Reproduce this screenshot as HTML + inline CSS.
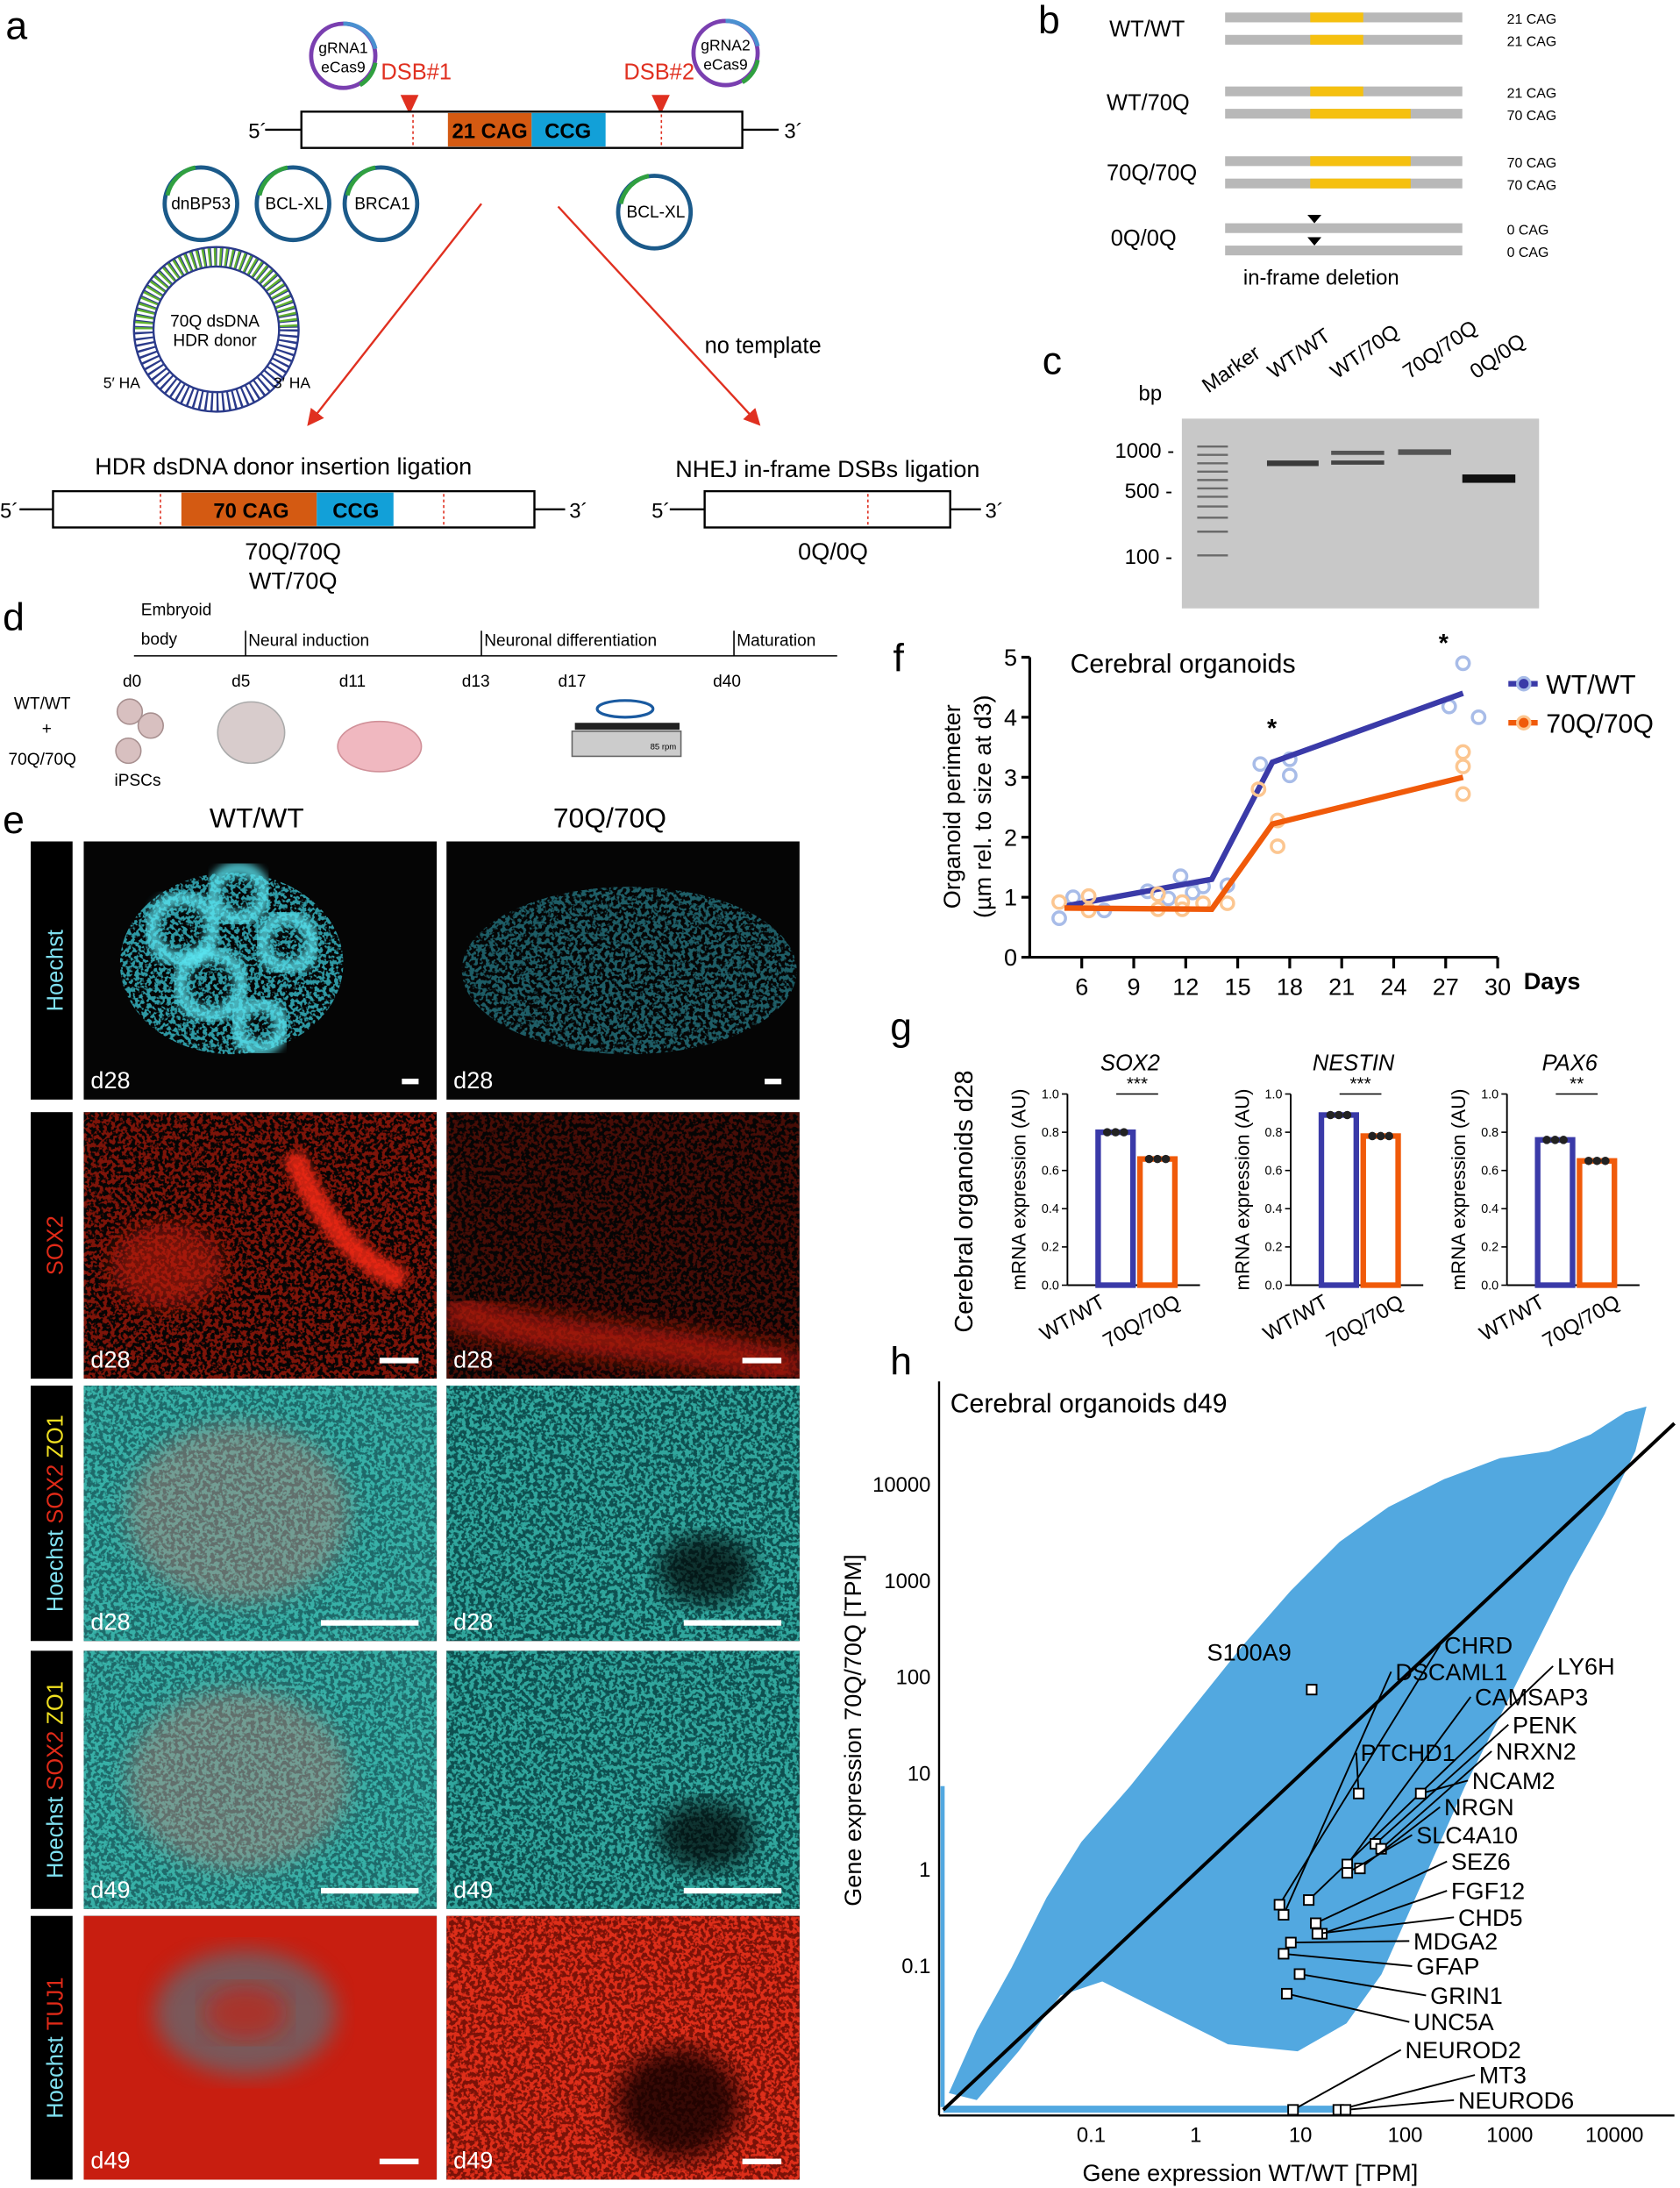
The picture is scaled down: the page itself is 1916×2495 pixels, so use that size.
<!DOCTYPE html>
<html><head><meta charset="utf-8">
<style>
html,body{margin:0;padding:0;background:#fff;}
svg{display:block;font-family:"Liberation Sans",sans-serif;}
</style></head>
<body>
<svg id="root" width="1916" height="2495" viewBox="0 0 1204 1568" preserveAspectRatio="none">
<defs>
<filter id="speck" x="0" y="0" width="1" height="1">
 <feTurbulence type="fractalNoise" baseFrequency="0.35" numOctaves="2" seed="3" result="n"/>
 <feColorMatrix in="n" type="matrix" values="0 0 0 0 0  0 0 0 0 0  0 0 0 0 0  0 0 0 9 -4" result="a"/>
 <feComposite in="SourceGraphic" in2="a" operator="in"/>
</filter>
<filter id="blur3"><feGaussianBlur stdDeviation="3"/></filter>
<filter id="blur8"><feGaussianBlur stdDeviation="8"/></filter>
<marker id="arr" markerWidth="8" markerHeight="8" refX="6" refY="4" orient="auto"><path d="M0,0 L8,4 L0,8 z" fill="#e03020"/></marker>
</defs>

<!-- ===== Panel a ===== -->
<g font-size="15">
 <text x="4" y="28" font-size="28">a</text>
 <g>
  <circle cx="246" cy="40" r="23" fill="none" stroke="#7a3fb0" stroke-width="3"/>
  <path d="M246,17 A23,23 0 0 1 269,35" stroke="#4a90d0" stroke-width="3" fill="none"/>
  <path d="M269,45 A23,23 0 0 1 258,61" stroke="#30a040" stroke-width="3" fill="none"/>
  <text x="246" y="38" font-size="11" text-anchor="middle">gRNA1</text><text x="246" y="52" font-size="11" text-anchor="middle">eCas9</text>
 </g>
 <g>
  <circle cx="520" cy="38" r="23" fill="none" stroke="#7a3fb0" stroke-width="3"/>
  <path d="M520,15 A23,23 0 0 1 543,33" stroke="#4a90d0" stroke-width="3" fill="none"/>
  <path d="M543,43 A23,23 0 0 1 532,59" stroke="#30a040" stroke-width="3" fill="none"/>
  <text x="520" y="36" font-size="11" text-anchor="middle">gRNA2</text><text x="520" y="50" font-size="11" text-anchor="middle">eCas9</text>
 </g>
 <text x="273" y="57" fill="#e03020" font-size="16">DSB#1</text>
 <text x="447" y="57" fill="#e03020" font-size="16">DSB#2</text>
 <path d="M287,68 L300,68 L293.5,82z" fill="#e03020"/><path d="M467,68 L480,68 L473.5,82z" fill="#e03020"/>
 <g>
  <line x1="190" y1="93" x2="216" y2="93" stroke="#000" stroke-width="1.5"/><line x1="532" y1="93" x2="558" y2="93" stroke="#000" stroke-width="1.5"/>
  <rect x="216" y="80" width="316" height="26" fill="#fff" stroke="#000" stroke-width="1.5"/>
  <rect x="321" y="81" width="60" height="24" fill="#d45a12"/><rect x="381" y="81" width="53" height="24" fill="#12a0d8"/>
  <text x="351" y="99" font-weight="bold" font-size="15" text-anchor="middle">21 CAG</text><text x="407" y="99" font-weight="bold" font-size="15" text-anchor="middle">CCG</text>
  <line x1="296" y1="82" x2="296" y2="105" stroke="#e03020" stroke-dasharray="2,2"/><line x1="474" y1="82" x2="474" y2="105" stroke="#e03020" stroke-dasharray="2,2"/>
  <text x="178" y="99">5´</text><text x="562" y="99">3´</text>
 </g>
 <g font-size="12" text-anchor="middle">
  <circle cx="144" cy="146" r="26" fill="none" stroke="#1b5a8a" stroke-width="3"/><text x="144" y="150">dnBP53</text>
  <circle cx="210" cy="146" r="26" fill="none" stroke="#1b5a8a" stroke-width="3"/><text x="211" y="150">BCL-XL</text>
  <circle cx="273" cy="146" r="26" fill="none" stroke="#1b5a8a" stroke-width="3"/><text x="274" y="150">BRCA1</text>
  <circle cx="469" cy="152" r="26" fill="none" stroke="#1b5a8a" stroke-width="3"/><text x="470" y="156">BCL-XL</text>
  <path d="M120,140 A26,26 0 0 1 140,120" stroke="#30a040" stroke-width="3" fill="none"/>
  <path d="M186,140 A26,26 0 0 1 206,120" stroke="#30a040" stroke-width="3" fill="none"/>
  <path d="M249,140 A26,26 0 0 1 269,120" stroke="#30a040" stroke-width="3" fill="none"/>
  <path d="M445,146 A26,26 0 0 1 465,126" stroke="#30a040" stroke-width="3" fill="none"/>
 </g>
 <g>
  <circle cx="155" cy="236" r="52" fill="none" stroke="#2a3a8a" stroke-width="14" stroke-dasharray="1.5,2.5"/>
  <path d="M103,236 A52,52 0 0 1 207,236" fill="none" stroke="#60b030" stroke-width="14" stroke-dasharray="1.5,2.5"/>
  <circle cx="155" cy="236" r="59" fill="none" stroke="#2a3a8a" stroke-width="1.5"/><circle cx="155" cy="236" r="45" fill="none" stroke="#2a3a8a" stroke-width="1.5"/>
  <text x="154" y="234" font-size="12" text-anchor="middle">70Q dsDNA</text><text x="154" y="248" font-size="12" text-anchor="middle">HDR donor</text>
  <text x="74" y="278" font-size="11">5′ HA</text><text x="196" y="278" font-size="11">3′ HA</text>
 </g>
 <line x1="345" y1="146" x2="222" y2="303" stroke="#e03020" stroke-width="1.5" marker-end="url(#arr)"/>
 <line x1="400" y1="148" x2="543" y2="303" stroke="#e03020" stroke-width="1.5" marker-end="url(#arr)"/>
 <text x="505" y="253" font-size="16">no template</text>
 <text x="68" y="340" font-size="17">HDR dsDNA donor insertion ligation</text>
 <text x="484" y="342" font-size="17">NHEJ in-frame DSBs ligation</text>
 <g>
  <line x1="14" y1="365" x2="38" y2="365" stroke="#000" stroke-width="1.5"/><line x1="383" y1="365" x2="405" y2="365" stroke="#000" stroke-width="1.5"/>
  <rect x="38" y="352" width="345" height="26" fill="#fff" stroke="#000" stroke-width="1.5"/>
  <rect x="130" y="353" width="97" height="24" fill="#d45a12"/><rect x="227" y="353" width="55" height="24" fill="#12a0d8"/>
  <text x="180" y="371" font-weight="bold" font-size="15" text-anchor="middle">70 CAG</text><text x="255" y="371" font-weight="bold" font-size="15" text-anchor="middle">CCG</text>
  <line x1="115" y1="354" x2="115" y2="377" stroke="#e03020" stroke-dasharray="2,2"/><line x1="318" y1="354" x2="318" y2="377" stroke="#e03020" stroke-dasharray="2,2"/>
  <text x="0" y="371">5´</text><text x="408" y="371">3´</text>
  <text x="210" y="401" font-size="17" text-anchor="middle">70Q/70Q</text><text x="210" y="422" font-size="17" text-anchor="middle">WT/70Q</text>
 </g>
 <g>
  <line x1="480" y1="365" x2="505" y2="365" stroke="#000" stroke-width="1.5"/><line x1="681" y1="365" x2="703" y2="365" stroke="#000" stroke-width="1.5"/>
  <rect x="505" y="352" width="176" height="26" fill="#fff" stroke="#000" stroke-width="1.5"/>
  <line x1="622" y1="354" x2="622" y2="377" stroke="#e03020" stroke-dasharray="2,2"/>
  <text x="467" y="371">5´</text><text x="706" y="371">3´</text>
  <text x="597" y="401" font-size="17" text-anchor="middle">0Q/0Q</text>
 </g>
</g>

<!-- ===== Panel b ===== -->
<g font-size="16">
 <text x="744" y="24" font-size="28">b</text>
 <g font-size="10">
  <text x="795" y="26" font-size="16">WT/WT</text>
  <rect x="878" y="9" width="170" height="7" fill="#b8b8b8"/><rect x="939" y="9" width="38" height="7" fill="#f5c010"/>
  <rect x="878" y="25" width="170" height="7" fill="#b8b8b8"/><rect x="939" y="25" width="38" height="7" fill="#f5c010"/>
  <text x="1080" y="17">21 CAG</text><text x="1080" y="33">21 CAG</text>
  <text x="793" y="79" font-size="16">WT/70Q</text>
  <rect x="878" y="62" width="170" height="7" fill="#b8b8b8"/><rect x="939" y="62" width="38" height="7" fill="#f5c010"/>
  <rect x="878" y="78" width="170" height="7" fill="#b8b8b8"/><rect x="939" y="78" width="72" height="7" fill="#f5c010"/>
  <text x="1080" y="70">21 CAG</text><text x="1080" y="86">70 CAG</text>
  <text x="793" y="129" font-size="16">70Q/70Q</text>
  <rect x="878" y="112" width="170" height="7" fill="#b8b8b8"/><rect x="939" y="112" width="72" height="7" fill="#f5c010"/>
  <rect x="878" y="128" width="170" height="7" fill="#b8b8b8"/><rect x="939" y="128" width="72" height="7" fill="#f5c010"/>
  <text x="1080" y="120">70 CAG</text><text x="1080" y="136">70 CAG</text>
  <text x="796" y="176" font-size="16">0Q/0Q</text>
  <rect x="878" y="160" width="170" height="7" fill="#b8b8b8"/><rect x="878" y="176" width="170" height="7" fill="#b8b8b8"/>
  <path d="M937,154 L947,154 L942,160z" fill="#000"/><path d="M937,170 L947,170 L942,176z" fill="#000"/>
  <text x="1080" y="168">0 CAG</text><text x="1080" y="184">0 CAG</text>
  <text x="891" y="204" font-size="15">in-frame deletion</text>
 </g>
</g>

<!-- ===== Panel c ===== -->
<g>
 <text x="747" y="268" font-size="28">c</text>
 <g font-size="15">
  <text transform="translate(866,282) rotate(-35)">Marker</text>
  <text transform="translate(913,272) rotate(-35)">WT/WT</text>
  <text transform="translate(958,272) rotate(-35)">WT/70Q</text>
  <text transform="translate(1010,272) rotate(-35)">70Q/70Q</text>
  <text transform="translate(1058,272) rotate(-35)">0Q/0Q</text>
  <text x="816" y="287">bp</text>
  <text x="799" y="328">1000 -</text><text x="806" y="357">500 -</text><text x="806" y="404">100 -</text>
 </g>
 <rect x="847" y="300" width="256" height="136" fill="#c8c8c8"/>
 <g stroke="#6a6a6a" stroke-width="1.5">
  <line x1="858" y1="320" x2="880" y2="320"/><line x1="858" y1="326" x2="880" y2="326"/><line x1="858" y1="332" x2="880" y2="332"/><line x1="858" y1="338" x2="880" y2="338"/><line x1="858" y1="344" x2="880" y2="344"/><line x1="858" y1="350" x2="880" y2="350"/><line x1="858" y1="356" x2="880" y2="356"/><line x1="858" y1="363" x2="880" y2="363"/><line x1="858" y1="371" x2="880" y2="371"/><line x1="858" y1="381" x2="880" y2="381"/><line x1="858" y1="398" x2="880" y2="398"/>
 </g>
 <g>
  <rect x="908" y="330" width="37" height="4" fill="#3a3a3a"/>
  <rect x="954" y="323" width="38" height="3" fill="#555"/><rect x="954" y="330" width="38" height="3" fill="#444"/>
  <rect x="1002" y="322" width="38" height="4" fill="#555"/>
  <rect x="1048" y="340" width="38" height="6" fill="#111"/>
 </g>
</g>

<!-- ===== Panel d ===== -->
<g font-size="12">
 <text x="2" y="452" font-size="28">d</text>
 <line x1="96" y1="470" x2="600" y2="470" stroke="#000"/>
 <text x="101" y="441">Embryoid</text><text x="101" y="462">body</text>
 <text x="178" y="463">Neural induction</text><text x="347" y="463">Neuronal differentiation</text><text x="528" y="463">Maturation</text>
 <line x1="176" y1="452" x2="176" y2="470" stroke="#000"/><line x1="345" y1="452" x2="345" y2="470" stroke="#000"/><line x1="526" y1="452" x2="526" y2="470" stroke="#000"/>
 <text x="88" y="492">d0</text><text x="166" y="492">d5</text><text x="243" y="492">d11</text><text x="331" y="492">d13</text><text x="400" y="492">d17</text><text x="511" y="492">d40</text>
 <text x="10" y="508">WT/WT</text><text x="30" y="526">+</text><text x="6" y="548">70Q/70Q</text><text x="82" y="563">iPSCs</text>
 <g fill="#d8c0c0" stroke="#a89090">
  <circle cx="93" cy="510" r="9"/><circle cx="108" cy="520" r="9"/><circle cx="92" cy="538" r="9"/>
 </g>
 <ellipse cx="180" cy="525" rx="24" ry="22" fill="#d8cccc" stroke="#aaa"/>
 <ellipse cx="272" cy="535" rx="30" ry="18" fill="#f0b8c0" stroke="#d09098"/>
 <g>
  <ellipse cx="448" cy="508" rx="20" ry="6" fill="none" stroke="#1a5aa0" stroke-width="2"/>
  <rect x="412" y="518" width="75" height="5" fill="#222"/><rect x="410" y="524" width="78" height="18" fill="#ccc" stroke="#666"/>
  <text x="466" y="537" font-size="6">85 rpm</text>
 </g>
</g>

<!-- ===== Panel e ===== -->
<g>
 <text x="2" y="597" font-size="28">e</text>
 <text x="184" y="593" font-size="20" text-anchor="middle">WT/WT</text>
 <text x="437" y="593" font-size="20" text-anchor="middle">70Q/70Q</text>
 <g id="micro"></g>
</g>

<!-- ===== Panel f ===== -->
<g>
 <text x="640" y="481" font-size="28">f</text>
 <g id="chartF"></g>
</g>

<!-- ===== Panel g ===== -->
<g>
 <text x="638" y="745" font-size="28">g</text>
 <text transform="translate(697,955) rotate(-90)" font-size="18">Cerebral organoids d28</text>
 <g id="chartG"></g>
</g>

<!-- ===== Panel h ===== -->
<g>
 <text x="638" y="985" font-size="28">h</text>
 <g id="chartH"></g>
</g>
</svg>

<script>
const NS='http://www.w3.org/2000/svg';
function mk(parent,tag,attrs,txt){const e=document.createElementNS(NS,tag);for(const k in attrs)e.setAttribute(k,attrs[k]);if(txt!==undefined)e.textContent=txt;parent.appendChild(e);return e;}

/* ---------- Panel e microscopy ---------- */
const microRowsY=[603,797,993,1183,1373];
const microRowsH=[185,191,183,185,189];
const microLabels=['Hoechst','SOX2','Hoechst SOX2 ZO1','Hoechst SOX2 ZO1','Hoechst TUJ1'];
const microDays=['d28','d28','d28','d49','d49'];
const micro=document.getElementById('micro');
microRowsY.forEach((y,i)=>{
  const h=microRowsH[i];
  const strip=mk(micro,'rect',{x:22,y:y,width:30,height:h,fill:'#000'});
  
  
  const lt=mk(micro,'text',{transform:`translate(45,${y+h/2}) rotate(-90)`,'font-size':16,'text-anchor':'middle',fill:i===1?'#e02a18':'#7fe0f0'},microLabels[i]);
  if(i===4){lt.textContent='';mk(lt,'tspan',{fill:'#7fe0f0'},'Hoechst ');mk(lt,'tspan',{fill:'#e02a18'},'TUJ1');}
  if(i===2||i===3){lt.textContent='';mk(lt,'tspan',{fill:'#7fe0f0'},'Hoechst ');mk(lt,'tspan',{fill:'#e02a18'},'SOX2 ');mk(lt,'tspan',{fill:'#f0e020'},'ZO1');}
  [60,320].forEach((x,c)=>{
    const g=mk(micro,'g',{});
    
    
    mk(g,'rect',{x:x,y:y,width:253,height:h,fill:'#050505'});
    const cl='clip'+i+c;
    const cp=mk(mk(g,'defs',{}),'clipPath',{id:cl});mk(cp,'rect',{x:x,y:y,width:253,height:h});
    const inner=mk(g,'g',{'clip-path':`url(#${cl})`});
    const cx=x+126,cy=y+h/2;
    if(i===0){
      if(c===0){
        const sp=mk(inner,'g',{filter:'url(#speck)',opacity:0.7});
        mk(sp,'ellipse',{cx:cx-20,cy:cy-5,rx:80,ry:65,fill:'#40d8e8'});
        [[-55,-30,22],[-15,-55,18],[20,-20,18],[-35,10,22],[0,40,16]].forEach(b=>{mk(inner,'circle',{cx:cx+b[0],cy:cy+b[1],r:b[2],fill:'none',stroke:'#5ce8f4','stroke-width':10,opacity:0.8,filter:'url(#blur3)'});});
      } else { const sp=mk(inner,'g',{filter:'url(#speck)',opacity:0.45}); mk(sp,'ellipse',{cx:cx+5,cy:cy,rx:120,ry:60,fill:'#3cc8dc'}); }
    } else if(i===1){
      const sp=mk(inner,'g',{filter:'url(#speck)',opacity:c===0?0.55:0.3});
      mk(sp,'rect',{x:x,y:y,width:253,height:h,fill:'#e0200e'});
      if(c===0){mk(inner,'path',{d:`M${x+150},${y+30} C${x+170},${y+80} ${x+200},${y+110} ${x+230},${y+120}`,stroke:'#ff2a14','stroke-width':16,fill:'none',opacity:0.8,filter:'url(#blur3)'});
        mk(inner,'ellipse',{cx:x+60,cy:y+110,rx:40,ry:30,fill:'#c01a0c',opacity:0.6,filter:'url(#blur8)'});}
      else {mk(inner,'path',{d:`M${x},${y+140} C${x+80},${y+170} ${x+160},${y+160} ${x+253},${y+185}`,stroke:'#d01e0e','stroke-width':24,fill:'none',opacity:0.7,filter:'url(#blur8)'});}
    } else if(i===2||i===3){
      mk(inner,'rect',{x:x,y:y,width:253,height:h,fill:c===0?'#1e6a6a':'#0e5050'});
      const sp=mk(inner,'g',{filter:'url(#speck)',opacity:0.6});
      mk(sp,'rect',{x:x,y:y,width:253,height:h,fill:'#48e0d0'});
      if(c===0) mk(inner,'ellipse',{cx:cx-15,cy:cy,rx:80,ry:65,fill:'#e07a70',opacity:0.35,filter:'url(#blur8)'});
      else mk(inner,'ellipse',{cx:cx+60,cy:cy+40,rx:35,ry:25,fill:'#000',opacity:0.7,filter:'url(#blur8)'});
    } else {
      if(c===0){
        mk(inner,'rect',{x:x,y:y,width:253,height:h,fill:'#c81e10'});
        mk(inner,'ellipse',{cx:cx-10,cy:cy-25,rx:65,ry:45,fill:'#3a8898',opacity:0.55,filter:'url(#blur8)'});
        mk(inner,'ellipse',{cx:cx-10,cy:cy-25,rx:30,ry:20,fill:'#c81e10',opacity:0.6,filter:'url(#blur8)'});
      } else {
        mk(inner,'rect',{x:x,y:y,width:253,height:h,fill:'#7a1208'});
        const sp=mk(inner,'g',{filter:'url(#speck)',opacity:0.9});
        mk(sp,'rect',{x:x,y:y,width:253,height:h,fill:'#e8301c'});
        mk(inner,'ellipse',{cx:cx+40,cy:cy+40,rx:45,ry:40,fill:'#100202',opacity:0.8,filter:'url(#blur8)'});
      }
    }
    mk(g,'text',{x:x+5,y:y+h-8,'font-size':17,fill:'#fff'},microDays[i]);
    const sbw=(i===2||i===3)?70:(i===0?12:28);
    mk(g,'rect',{x:x+240-sbw,y:y+h-15,width:sbw,height:4,fill:'#fff'});
  });
});

/* ---------- Panel f line chart ---------- */
const fDaysLine=[5,13.5,17,28];
const fWTLine=[0.85,1.3,3.25,4.4];
const f70QLine=[0.82,0.8,2.22,3.0];
const fWTPtsX=[4.7,5.5,7.3,9.8,11,11.7,12.4,13,14.4,16.3,18,18,27.2,28,28.9];
const fWTPtsY=[0.65,1.0,0.78,1.1,0.98,1.35,1.08,1.18,1.2,3.22,3.3,3.03,4.18,4.9,4.0];
const f70QPtsX=[4.7,6.4,6.4,10.4,10.4,11.8,11.8,13,14.4,16.2,17.3,17.3,28,28,28];
const f70QPtsY=[0.92,1.02,0.78,1.05,0.8,0.92,0.8,0.9,0.9,2.8,2.28,1.85,3.42,3.18,2.72];
const fXTicks=[6,9,12,15,18,21,24,27,30];
const fYTicks=[0,1,2,3,4,5];
const fx=d=>738+(d-3)*12.42, fy=v=>686-v*43;
(function(){
  const g=document.getElementById('chartF');
  mk(g,'line',{x1:fx(3),y1:fy(0),x2:fx(30),y2:fy(0),stroke:'#000','stroke-width':2});
  mk(g,'line',{x1:fx(3),y1:fy(0),x2:fx(3),y2:fy(5),stroke:'#000','stroke-width':2});
  fXTicks.forEach(t=>{mk(g,'line',{x1:fx(t),y1:fy(0),x2:fx(t),y2:fy(0)+8,stroke:'#000','stroke-width':2});
    const tl=mk(g,'text',{x:fx(t),y:fy(0)+27,'font-size':17,'text-anchor':'middle'},t);
    
    });
  fYTicks.forEach(t=>{mk(g,'line',{x1:fx(3)-6,y1:fy(t),x2:fx(3),y2:fy(t),stroke:'#000','stroke-width':2});
    const tl=mk(g,'text',{x:fx(3)-9,y:fy(t)+6,'font-size':17,'text-anchor':'end'},t);
    
    });
  const xt=mk(g,'text',{x:1092,y:709,'font-size':17,'font-weight':'bold'},'Days');
  
  
  const yt=mk(g,'text',{transform:'translate(688,578) rotate(-90)','font-size':17,'text-anchor':'middle'},'Organoid perimeter');
  
  
  mk(g,'text',{transform:'translate(710,578) rotate(-90)','font-size':17,'text-anchor':'middle'},'(µm rel. to size at d3)');
  mk(g,'text',{x:767,y:482,'font-size':19},'Cerebral organoids');
  mk(g,'text',{x:908,y:528,'font-size':18,'font-weight':'bold'},'*');
  mk(g,'text',{x:1031,y:467,'font-size':18,'font-weight':'bold'},'*');
  const series=[[fWTPtsX,fWTPtsY,fWTLine,'#a8bce8','#3a3aa8','WT/WT',490],[f70QPtsX,f70QPtsY,f70QLine,'#fcc690','#f05a0a','70Q/70Q',518]];
  series.forEach((s,si)=>{
    s[0].forEach((d,k)=>{const c=mk(g,'circle',{cx:fx(d),cy:fy(s[1][k]),r:4.5,fill:'none',stroke:s[3],'stroke-width':2.2});
      
      });
    const pl=mk(g,'polyline',{points:fDaysLine.map((d,k)=>fx(d)+','+fy(s[2][k])).join(' '),fill:'none',stroke:s[4],'stroke-width':4});
    
    
    const lg=mk(g,'g',{});
    
    
    mk(lg,'line',{x1:1081,y1:s[6],x2:1102,y2:s[6],stroke:s[4],'stroke-width':4});
    mk(lg,'circle',{cx:1092,cy:s[6],r:4.5,fill:s[4],stroke:s[3],'stroke-width':2});
    mk(lg,'text',{x:1108,y:s[6]+7,'font-size':19},s[5]);
  });
})();

/* ---------- Panel g bar charts ---------- */
const gGenes=['SOX2','NESTIN','PAX6'];
const gWT=[0.80,0.89,0.76];
const g70Q=[0.66,0.78,0.65];
const gSig=['***','***','**'];
const gYTicks=[0,0.2,0.4,0.6,0.8,1.0];
const gOrigins=[765,925,1080];
(function(){
  const g=document.getElementById('chartG');
  const y0=921, yh=137; const gy=v=>y0-v*yh;
  gGenes.forEach((name,i)=>{
    const ox=gOrigins[i];
    const sub=mk(g,'g',{});
    
    
    mk(sub,'line',{x1:ox,y1:gy(0),x2:ox,y2:gy(1),stroke:'#000','stroke-width':1.2});
    mk(sub,'line',{x1:ox,y1:gy(0),x2:ox+95,y2:gy(0),stroke:'#000','stroke-width':1.2});
    gYTicks.forEach(t=>{mk(sub,'line',{x1:ox-4,y1:gy(t),x2:ox,y2:gy(t),stroke:'#000'});
      mk(sub,'text',{x:ox-6,y:gy(t)+3,'font-size':9,'text-anchor':'end'},t.toFixed(1));});
    mk(sub,'text',{transform:`translate(${ox-30},${gy(0.5)}) rotate(-90)`,'font-size':14,'text-anchor':'middle'},'mRNA expression  (AU)');
    mk(sub,'text',{x:ox+45,y:767,'font-size':16,'font-style':'italic','text-anchor':'middle'},name);
    const vals=[gWT[i],g70Q[i]], cols=['#3a3aa8','#f05a0a'], bx=[ox+22,ox+52];
    vals.forEach((v,k)=>{
      const b=mk(sub,'rect',{x:bx[k],y:gy(v),width:25,height:gy(0)-gy(v),fill:'#fff',stroke:cols[k],'stroke-width':4});
      
      
      [-6,0,6].forEach(d=>mk(sub,'circle',{cx:bx[k]+12.5+d,cy:gy(v),r:3,fill:'#222'}));
    });
    mk(sub,'line',{x1:ox+35,y1:784,x2:ox+65,y2:784,stroke:'#000'});
    mk(sub,'text',{x:ox+50,y:781,'font-size':13,'text-anchor':'middle'},gSig[i]);
    mk(sub,'text',{transform:`translate(${ox+28},${936}) rotate(-30)`,'font-size':15,'text-anchor':'end'},'WT/WT');
    mk(sub,'text',{x:0,y:0,transform:`translate(${ox+82},${936}) rotate(-30)`,'font-size':15,'text-anchor':'end'},'70Q/70Q');
  });
})();

/* ---------- Panel h scatter ---------- */
const hGenes=['S100A9','CHRD','DSCAML1','LY6H','CAMSAP3','PENK','PTCHD1','NRXN2','NCAM2','NRGN','SLC4A10','SEZ6','FGF12','CHD5','MDGA2','GFAP','GRIN1','UNC5A','NEUROD2','MT3','NEUROD6'];
const hWT=[12.8,6.3,6.9,12,28,52,36,59,141,37,28,14,16,14.5,8.1,6.9,9.8,7.4,8.5,23,27];
const h70Q=[72,0.42,0.33,0.47,1.1,1.8,6.0,1.6,6.0,1.0,0.9,0.27,0.21,0.21,0.17,0.13,0.08,0.05,0,0,0];
const hXTicks=[0.1,1,10,100,1000,10000];
const hYTicks=[0.1,1,10,100,1000,10000];
const hLabelPos=[[865,1190],[1035,1185],[1000,1204],[1116,1200],[1057,1222],[1084,1242],[975,1262],[1072,1261],[1055,1282],[1035,1301],[1015,1321],[1040,1340],[1040,1361],[1045,1380],[1013,1397],[1015,1415],[1025,1436],[1013,1455],[1007,1475],[1060,1493],[1045,1511]];
const hx=v=>v<=0?676:857+Math.log10(v)*75;
const hy=v=>v<=0?1512:1339-Math.log10(v)*69;
(function(){
  const g=document.getElementById('chartH');
  mk(g,'line',{x1:673,y1:990,x2:673,y2:1516,stroke:'#000','stroke-width':1.5});
  mk(g,'line',{x1:673,y1:1516,x2:1200,y2:1516,stroke:'#000','stroke-width':1.5});
  hXTicks.forEach(t=>{const tl=mk(g,'text',{x:hx(t),y:1535,'font-size':15,'text-anchor':'middle'},t);
    
    });
  hYTicks.forEach(t=>{const tl=mk(g,'text',{x:667,y:hy(t)+6,'font-size':15,'text-anchor':'end'},t);
    
    });
  const xt=mk(g,'text',{x:896,y:1563,'font-size':17,'text-anchor':'middle'},'Gene expression WT/WT  [TPM]');
  
  
  const yt=mk(g,'text',{transform:'translate(617,1240) rotate(-90)','font-size':17,'text-anchor':'middle'},'Gene expression 70Q/70Q  [TPM]');
  
  
  mk(g,'text',{x:681,y:1012,'font-size':19},'Cerebral organoids d49');
  const cloud=mk(g,'polygon',{points:'680,1500 700,1455 725,1410 750,1360 775,1320 810,1280 850,1230 890,1180 925,1140 960,1105 995,1080 1035,1060 1075,1045 1110,1040 1140,1028 1165,1012 1180,1008 1172,1040 1150,1085 1125,1130 1100,1180 1075,1230 1050,1280 1030,1325 1010,1370 990,1415 965,1450 930,1470 880,1465 830,1440 790,1420 760,1430 730,1470 700,1505',fill:'#52a8e0'});
  
  
  mk(g,'rect',{x:676,y:1509,width:290,height:5,fill:'#52a8e0'});
  mk(g,'rect',{x:674,y:1280,width:3,height:230,fill:'#52a8e0'});
  const diag=mk(g,'line',{x1:676,y1:1512,x2:1200,y2:1020,stroke:'#000','stroke-width':2.5});
  
  
  hGenes.forEach((name,i)=>{
    const px=hx(hWT[i]), py=hy(h70Q[i]);
    const lp=hLabelPos[i];
    if(i>0) mk(g,'line',{x1:px,y1:py,x2:lp[0]-3,y2:lp[1]-6,stroke:'#000','stroke-width':1.2});
    const m=mk(g,'rect',{x:px-3.5,y:py-3.5,width:7,height:7,fill:'#fff',stroke:'#000','stroke-width':1.2});
    
    
    const t=mk(g,'text',{x:lp[0],y:lp[1],'font-size':17},name);
    
    
  });
})();
</script>
</body></html>
